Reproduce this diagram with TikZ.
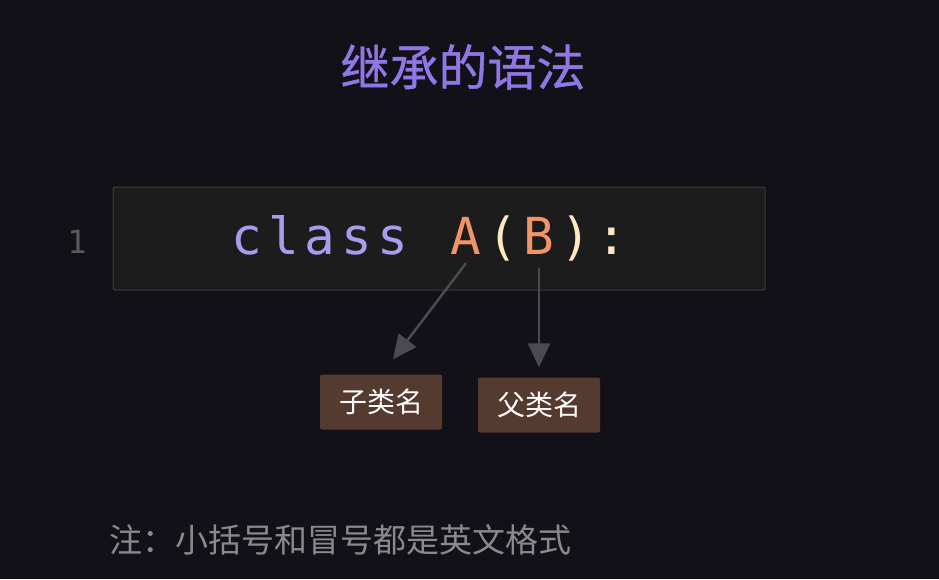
\documentclass[tikz,border=0pt]{standalone}
\usepackage{fontspec}
\usetikzlibrary{arrows.meta}
\newfontfamily\cjk{Noto Sans CJK SC}
\newfontfamily\cjkbold[FakeBold=0.9]{Noto Sans CJK SC}
\newfontfamily\mono{DejaVu Sans Mono}
\definecolor{bg}{HTML}{121117}
\definecolor{boxfill}{HTML}{1C1C1D}
\definecolor{boxline}{HTML}{3C3C3E}
\definecolor{titlecol}{HTML}{8F78E6}
\definecolor{kwcol}{HTML}{A89CEE}
\definecolor{clscol}{HTML}{F39468}
\definecolor{parcol}{HTML}{FCE8C2}
\definecolor{numcol}{HTML}{5A5A5E}
\definecolor{arrcol}{HTML}{4A4A50}
\definecolor{tagfill}{HTML}{553A30}
\definecolor{notecol}{HTML}{8A8A8E}

\begin{document}
\begin{tikzpicture}[x=1pt,y=-1pt,
  code/.style={font=\mono\fontsize{51}{60}\selectfont,inner sep=0pt,anchor=base},
  tag/.style={fill=tagfill,rounded corners=2pt,minimum width=122pt,minimum height=55pt,
    text=white,font=\cjk\fontsize{28}{32}\selectfont},
  arr/.style={draw=arrcol,line width=2.5pt,-{Triangle[length=24pt,width=22pt]}}]
  \fill[bg] (0,0) rectangle (939,579);
  \useasboundingbox (0,0) rectangle (939,579);

  \node[text=titlecol,font=\cjkbold\fontsize{49}{56}\selectfont] (title) at (463,67) {继承的语法};

  \node[draw=boxline,fill=boxfill,line width=1pt,rounded corners=2pt,
    minimum width=652pt,minimum height=103pt] (codebox) at (439,238.5) {};
  \node[text=numcol,font=\mono\fontsize{32}{36}\selectfont,anchor=base] (num) at (77,253) {1};

  \foreach \ch [count=\i from 0] in {c,l,a,s,s}
    \node[code,text=kwcol] at (247+36.5*\i,254) {\ch};
  \node[code,text=clscol] (A) at (466,254) {A};
  \node[code,text=parcol] (lp) at (502.5,254) {(};
  \node[code,text=clscol] (B) at (539,254) {B};
  \node[code,text=parcol] (rp) at (575.5,254) {)};
  \node[code,text=parcol] (colon) at (612,254) {:};

  \node[tag] (sub) at (381,402) {子类名};
  \node[tag] (sup) at (539,405) {父类名};

  \draw[arr] ([yshift=-9pt]A.south) -- ([xshift=12pt,yshift=15pt]sub.north);
  \draw[arr] ([yshift=-14pt]B.south) -- ([yshift=10pt]sup.north);

  \node[text=notecol,font=\cjk\fontsize{33}{38}\selectfont,anchor=west] (note) at (106,540)
    {注：小括号和冒号都是英文格式};
\end{tikzpicture}
\end{document}
